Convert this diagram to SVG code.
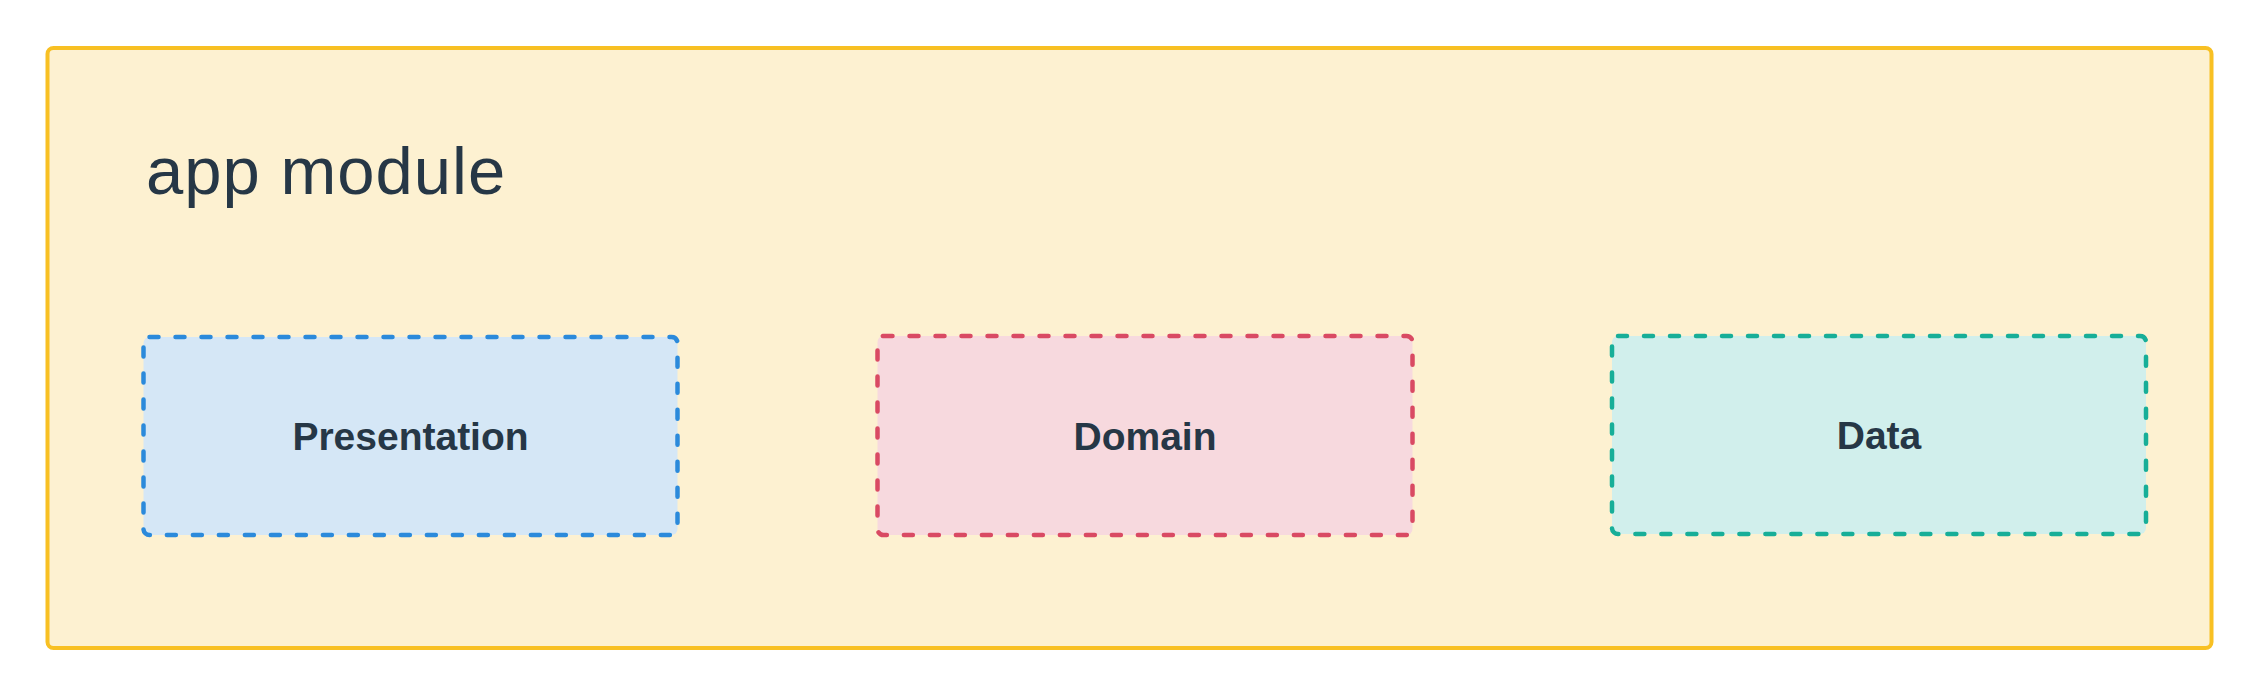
<svg xmlns="http://www.w3.org/2000/svg" width="2260" height="696" viewBox="0 0 2260 696">
  <style>
    .title { font-family: "Liberation Sans", Arial, sans-serif; font-size: 67px; letter-spacing: 1px; fill: #263746; }
    .label { font-family: "Liberation Sans", Arial, sans-serif; font-size: 39px; font-weight: bold; fill: #263746; text-anchor: middle; dominant-baseline: central; }
    .box { stroke-width: 4.5; stroke-dasharray: 9 17; stroke-linecap: round; }
  </style>
  <rect width="2260" height="696" fill="#ffffff"/>
  <g id="app-module">
    <rect x="47.5" y="48" width="2164" height="600" rx="6" fill="#FDF1D1" stroke="#F8C023" stroke-width="4"/>
    <text class="title" x="146" y="194">app module</text>
  </g>
  <g id="presentation">
    <rect class="box" x="143.5" y="337" width="534" height="198" rx="6" fill="#D5E7F6" stroke="#2B8ADB"/>
    <text class="label" x="410.5" y="436">Presentation</text>
  </g>
  <g id="domain">
    <rect class="box" x="877.5" y="336" width="535" height="199" rx="6" fill="#F7D9DE" stroke="#D94A63"/>
    <text class="label" x="1145" y="436">Domain</text>
  </g>
  <g id="data">
    <rect class="box" x="1612" y="336" width="534" height="198" rx="6" fill="#D1EFEC" stroke="#17AE98"/>
    <text class="label" x="1879" y="435">Data</text>
  </g>
  <g id="connectors"></g>
</svg>
